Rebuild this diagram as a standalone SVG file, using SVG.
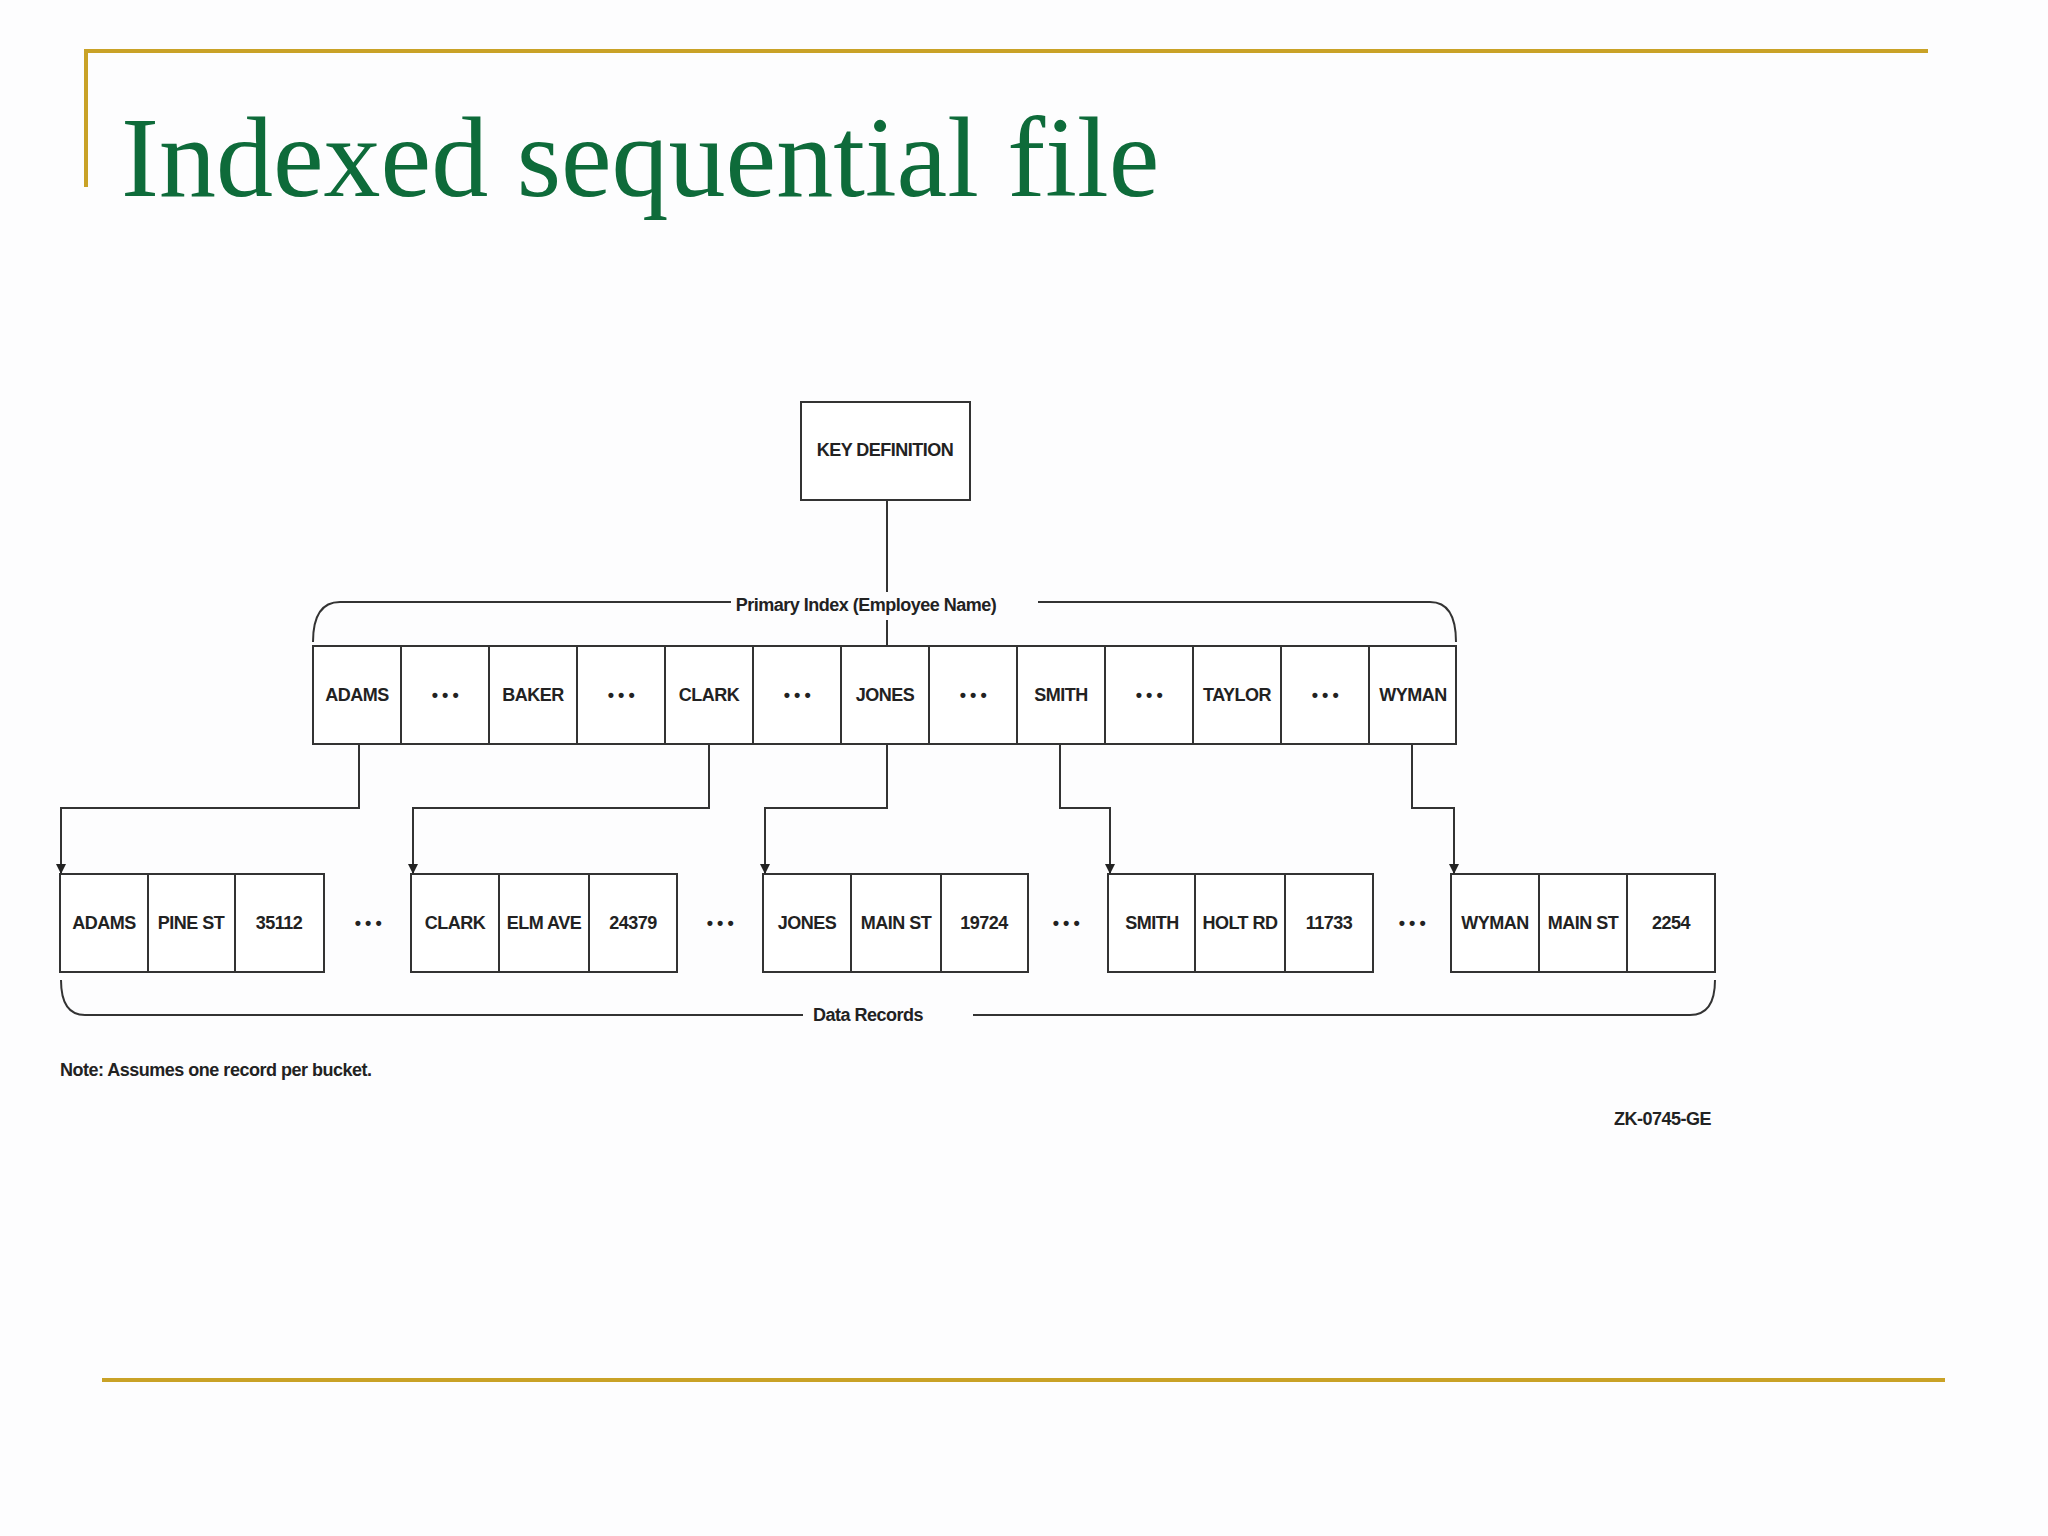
<svg xmlns="http://www.w3.org/2000/svg" width="2048" height="1536" viewBox="0 0 2048 1536">
<defs>
<marker id="ar" viewBox="0 0 10 10" refX="10" refY="5" markerWidth="14" markerHeight="10" markerUnits="userSpaceOnUse" orient="auto"><path d="M0,0 L10,5 L0,10 z" fill="#222"/></marker>
<style>
.c{fill:#fff;stroke:#333;stroke-width:2}
.t{font-family:"Liberation Sans",sans-serif;font-weight:bold;font-size:18px;fill:#222;text-anchor:middle;dominant-baseline:central;letter-spacing:-0.5px}
.w{stroke:#333;stroke-width:2;fill:none}
.g{stroke:#c9a227;stroke-width:4}
</style>
</defs>
<rect width="2048" height="1536" fill="#fdfdfe"/>
<line class="g" x1="84" y1="51" x2="1928" y2="51"/>
<line class="g" x1="86" y1="51" x2="86" y2="187"/>
<line class="g" x1="102" y1="1380" x2="1945" y2="1380"/>
<text x="121" y="196" font-family="'Liberation Serif',serif" font-size="114" fill="#0e6b3a">Indexed sequential file</text>

<g id="keydef"><rect class="c" x="801" y="402" width="169" height="98"/><text class="t" x="885" y="450">KEY DEFINITION</text></g>

<g id="primary-index">
<path class="w" d="M313,642 Q313,602 340,602 L731,602 M1038,602 L1430,602 Q1456,602 1456,642"/>
<text class="t" x="866" y="605" font-size="17">Primary Index (Employee Name)</text>
<g transform="translate(313,646)">
<rect class="c" x="0" y="0" width="88" height="98"/><text class="t" x="44" y="49">ADAMS</text>
<rect class="c" x="88" y="0" width="88" height="98"/><text class="t" x="132" y="49">• • •</text>
<rect class="c" x="176" y="0" width="88" height="98"/><text class="t" x="220" y="49">BAKER</text>
<rect class="c" x="264" y="0" width="88" height="98"/><text class="t" x="308" y="49">• • •</text>
<rect class="c" x="352" y="0" width="88" height="98"/><text class="t" x="396" y="49">CLARK</text>
<rect class="c" x="440" y="0" width="88" height="98"/><text class="t" x="484" y="49">• • •</text>
<rect class="c" x="528" y="0" width="88" height="98"/><text class="t" x="572" y="49">JONES</text>
<rect class="c" x="616" y="0" width="88" height="98"/><text class="t" x="660" y="49">• • •</text>
<rect class="c" x="704" y="0" width="88" height="98"/><text class="t" x="748" y="49">SMITH</text>
<rect class="c" x="792" y="0" width="88" height="98"/><text class="t" x="836" y="49">• • •</text>
<rect class="c" x="880" y="0" width="88" height="98"/><text class="t" x="924" y="49">TAYLOR</text>
<rect class="c" x="968" y="0" width="88" height="98"/><text class="t" x="1012" y="49">• • •</text>
<rect class="c" x="1056" y="0" width="87" height="98"/><text class="t" x="1100" y="49">WYMAN</text>
</g>
</g>

<g id="rec-adams" transform="translate(60,874)">
<rect class="c" x="0" y="0" width="88" height="98"/><text class="t" x="44" y="49">ADAMS</text>
<rect class="c" x="88" y="0" width="87" height="98"/><text class="t" x="131" y="49">PINE ST</text>
<rect class="c" x="175" y="0" width="89" height="98"/><text class="t" x="219" y="49">35112</text>
</g>
<g id="rec-clark" transform="translate(411,874)">
<rect class="c" x="0" y="0" width="88" height="98"/><text class="t" x="44" y="49">CLARK</text>
<rect class="c" x="88" y="0" width="90" height="98"/><text class="t" x="133" y="49">ELM AVE</text>
<rect class="c" x="178" y="0" width="88" height="98"/><text class="t" x="222" y="49">24379</text>
</g>
<g id="rec-jones" transform="translate(763,874)">
<rect class="c" x="0" y="0" width="88" height="98"/><text class="t" x="44" y="49">JONES</text>
<rect class="c" x="88" y="0" width="90" height="98"/><text class="t" x="133" y="49">MAIN ST</text>
<rect class="c" x="178" y="0" width="87" height="98"/><text class="t" x="221" y="49">19724</text>
</g>
<g id="rec-smith" transform="translate(1108,874)">
<rect class="c" x="0" y="0" width="87" height="98"/><text class="t" x="44" y="49">SMITH</text>
<rect class="c" x="87" y="0" width="90" height="98"/><text class="t" x="132" y="49">HOLT RD</text>
<rect class="c" x="177" y="0" width="88" height="98"/><text class="t" x="221" y="49">11733</text>
</g>
<g id="rec-wyman" transform="translate(1451,874)">
<rect class="c" x="0" y="0" width="88" height="98"/><text class="t" x="44" y="49">WYMAN</text>
<rect class="c" x="88" y="0" width="88" height="98"/><text class="t" x="132" y="49">MAIN ST</text>
<rect class="c" x="176" y="0" width="88" height="98"/><text class="t" x="220" y="49">2254</text>
</g>
<g id="gaps">
<text class="t" x="368" y="923">• • •</text>
<text class="t" x="720" y="923">• • •</text>
<text class="t" x="1066" y="923">• • •</text>
<text class="t" x="1412" y="923">• • •</text>
</g>

<g id="connectors">
<path class="w" d="M887,500 L887,592 M887,620 L887,646"/>
<path class="w" marker-end="url(#ar)" d="M359,744 L359,808 L61,808 L61,874"/>
<path class="w" marker-end="url(#ar)" d="M709,744 L709,808 L413,808 L413,874"/>
<path class="w" marker-end="url(#ar)" d="M887,744 L887,808 L765,808 L765,874"/>
<path class="w" marker-end="url(#ar)" d="M1060,744 L1060,808 L1110,808 L1110,874"/>
<path class="w" marker-end="url(#ar)" d="M1412,744 L1412,808 L1454,808 L1454,874"/>
</g>

<g id="data-records">
<path class="w" d="M61,980 Q61,1015 85,1015 L803,1015 M973,1015 L1690,1015 Q1715,1015 1715,980"/>
<text class="t" x="868" y="1015" font-size="17">Data Records</text>
</g>
<text class="t" x="60" y="1070" font-size="17" style="text-anchor:start">Note:  Assumes one record per bucket.</text>
<text class="t" x="1711" y="1119" font-size="17" style="text-anchor:end">ZK-0745-GE</text>
</svg>
